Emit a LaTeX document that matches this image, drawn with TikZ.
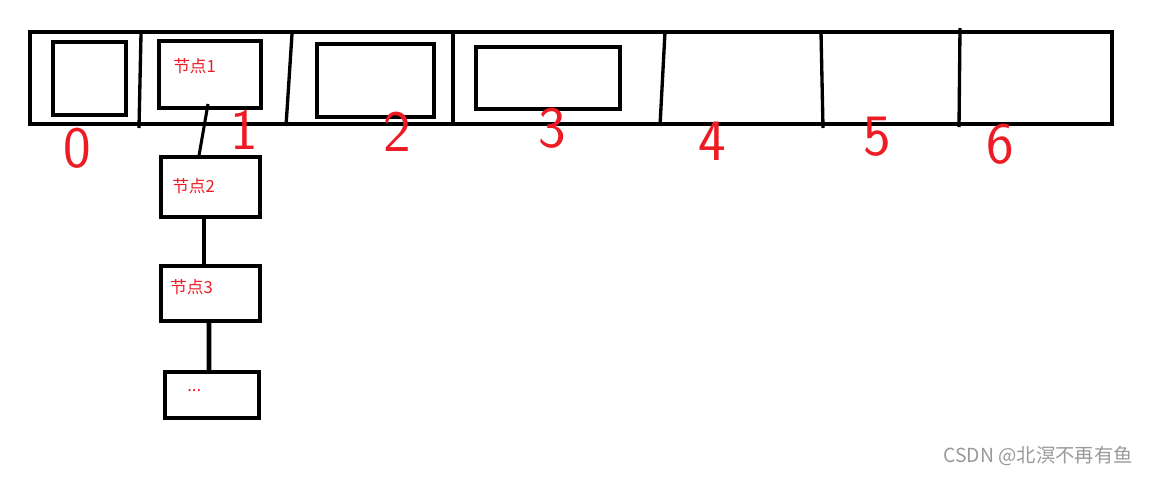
\documentclass[tikz,border=0pt]{standalone}
\usepackage{fontspec}
\newfontfamily\cjk{Noto Sans CJK SC}
\definecolor{paintred}{RGB}{237,28,36}
\tikzset{
  cell/.style={draw, line width=2.3pt, inner sep=0pt},
  tag/.style={anchor=west, inner sep=0.75pt, text=paintred, font=\cjk\fontsize{12.5}{14}\selectfont},
  digit/.style={inner sep=0pt, text=paintred, font=\sffamily\fontsize{44}{44}\selectfont},
}
\begin{document}
\begin{tikzpicture}[x=0.75pt,y=0.75pt,yscale=-1,xscale=1]
\useasboundingbox (0,0) rectangle (1149,476);
%Shape: Rectangle (the array)
\draw [line width=2.5pt] (30,32) rectangle (1112,124);
%Straight Lines (slot borders)
\draw [line width=2.5pt] (141,34) -- (139,128);
\draw [line width=2.5pt] (292,34) -- (286,126);
\draw [line width=2.5pt] (453,32) -- (453,126);
\draw [line width=2.5pt] (665,32) -- (660,126);
\draw [line width=2.5pt] (821,32) -- (823,128);
\draw [line width=2.5pt] (960,28) -- (959,127);

%Shapes: slot contents
\node [cell, minimum width=54.75pt, minimum height=54.75pt] (box0) at (89.5,78.5) {};
\node [cell, minimum width=76.5pt, minimum height=50.25pt] (box1) at (210,74.5) {};
\node [cell, minimum width=87.75pt, minimum height=54.75pt] (box2) at (375.5,80.5) {};
\node [cell, minimum width=108pt, minimum height=46.5pt] (box3) at (548,78) {};

%Shapes: linked list
\node [cell, minimum width=74.25pt, minimum height=45pt] (node2) at (210.5,187) {};
\node [cell, minimum width=74.25pt, minimum height=41.25pt] (node3) at (210.5,293.5) {};
\node [cell, minimum width=70.5pt, minimum height=34.5pt] (node4) at (212,395) {};

\draw (172,66) node [tag] (tag1) {节点1};
\draw (171,186) node [tag] (tag2) {节点2};
\draw (169,287) node [tag] (tag3) {节点3};
\draw (186,391) node [tag] (tag4) {...};

%Straight Lines (links)
\coordinate (tail1) at (208,104);
\draw [line width=2.3pt] (tail1) -- ([xshift=-8.6pt]node2.north);
\draw [line width=2.3pt] ([xshift=-4.9pt]node2.south) -- ([xshift=-4.9pt]node3.north);
\draw [line width=3.5pt] ([xshift=-1.1pt]node3.south) -- ([xshift=-2.2pt]node4.north);

%Index labels
\draw (77,148) node [digit] (idx0) {0};
\draw (244,130) node [digit] (idx1) {1};
\draw (397,132) node [digit] (idx2) {2};
\draw (552,128) node [digit] (idx3) {3};
\draw (712,141) node [digit] (idx4) {4};
\draw (877,137) node [digit] (idx5) {5};
\draw (1000,144) node [digit] (idx6) {6};

\draw (1133,456) node [anchor=east, inner sep=0pt, text=black!40, font=\cjk\fontsize{14.5}{16}\selectfont] (mark) {CSDN @北溟不再有鱼};
\end{tikzpicture}
\end{document}
